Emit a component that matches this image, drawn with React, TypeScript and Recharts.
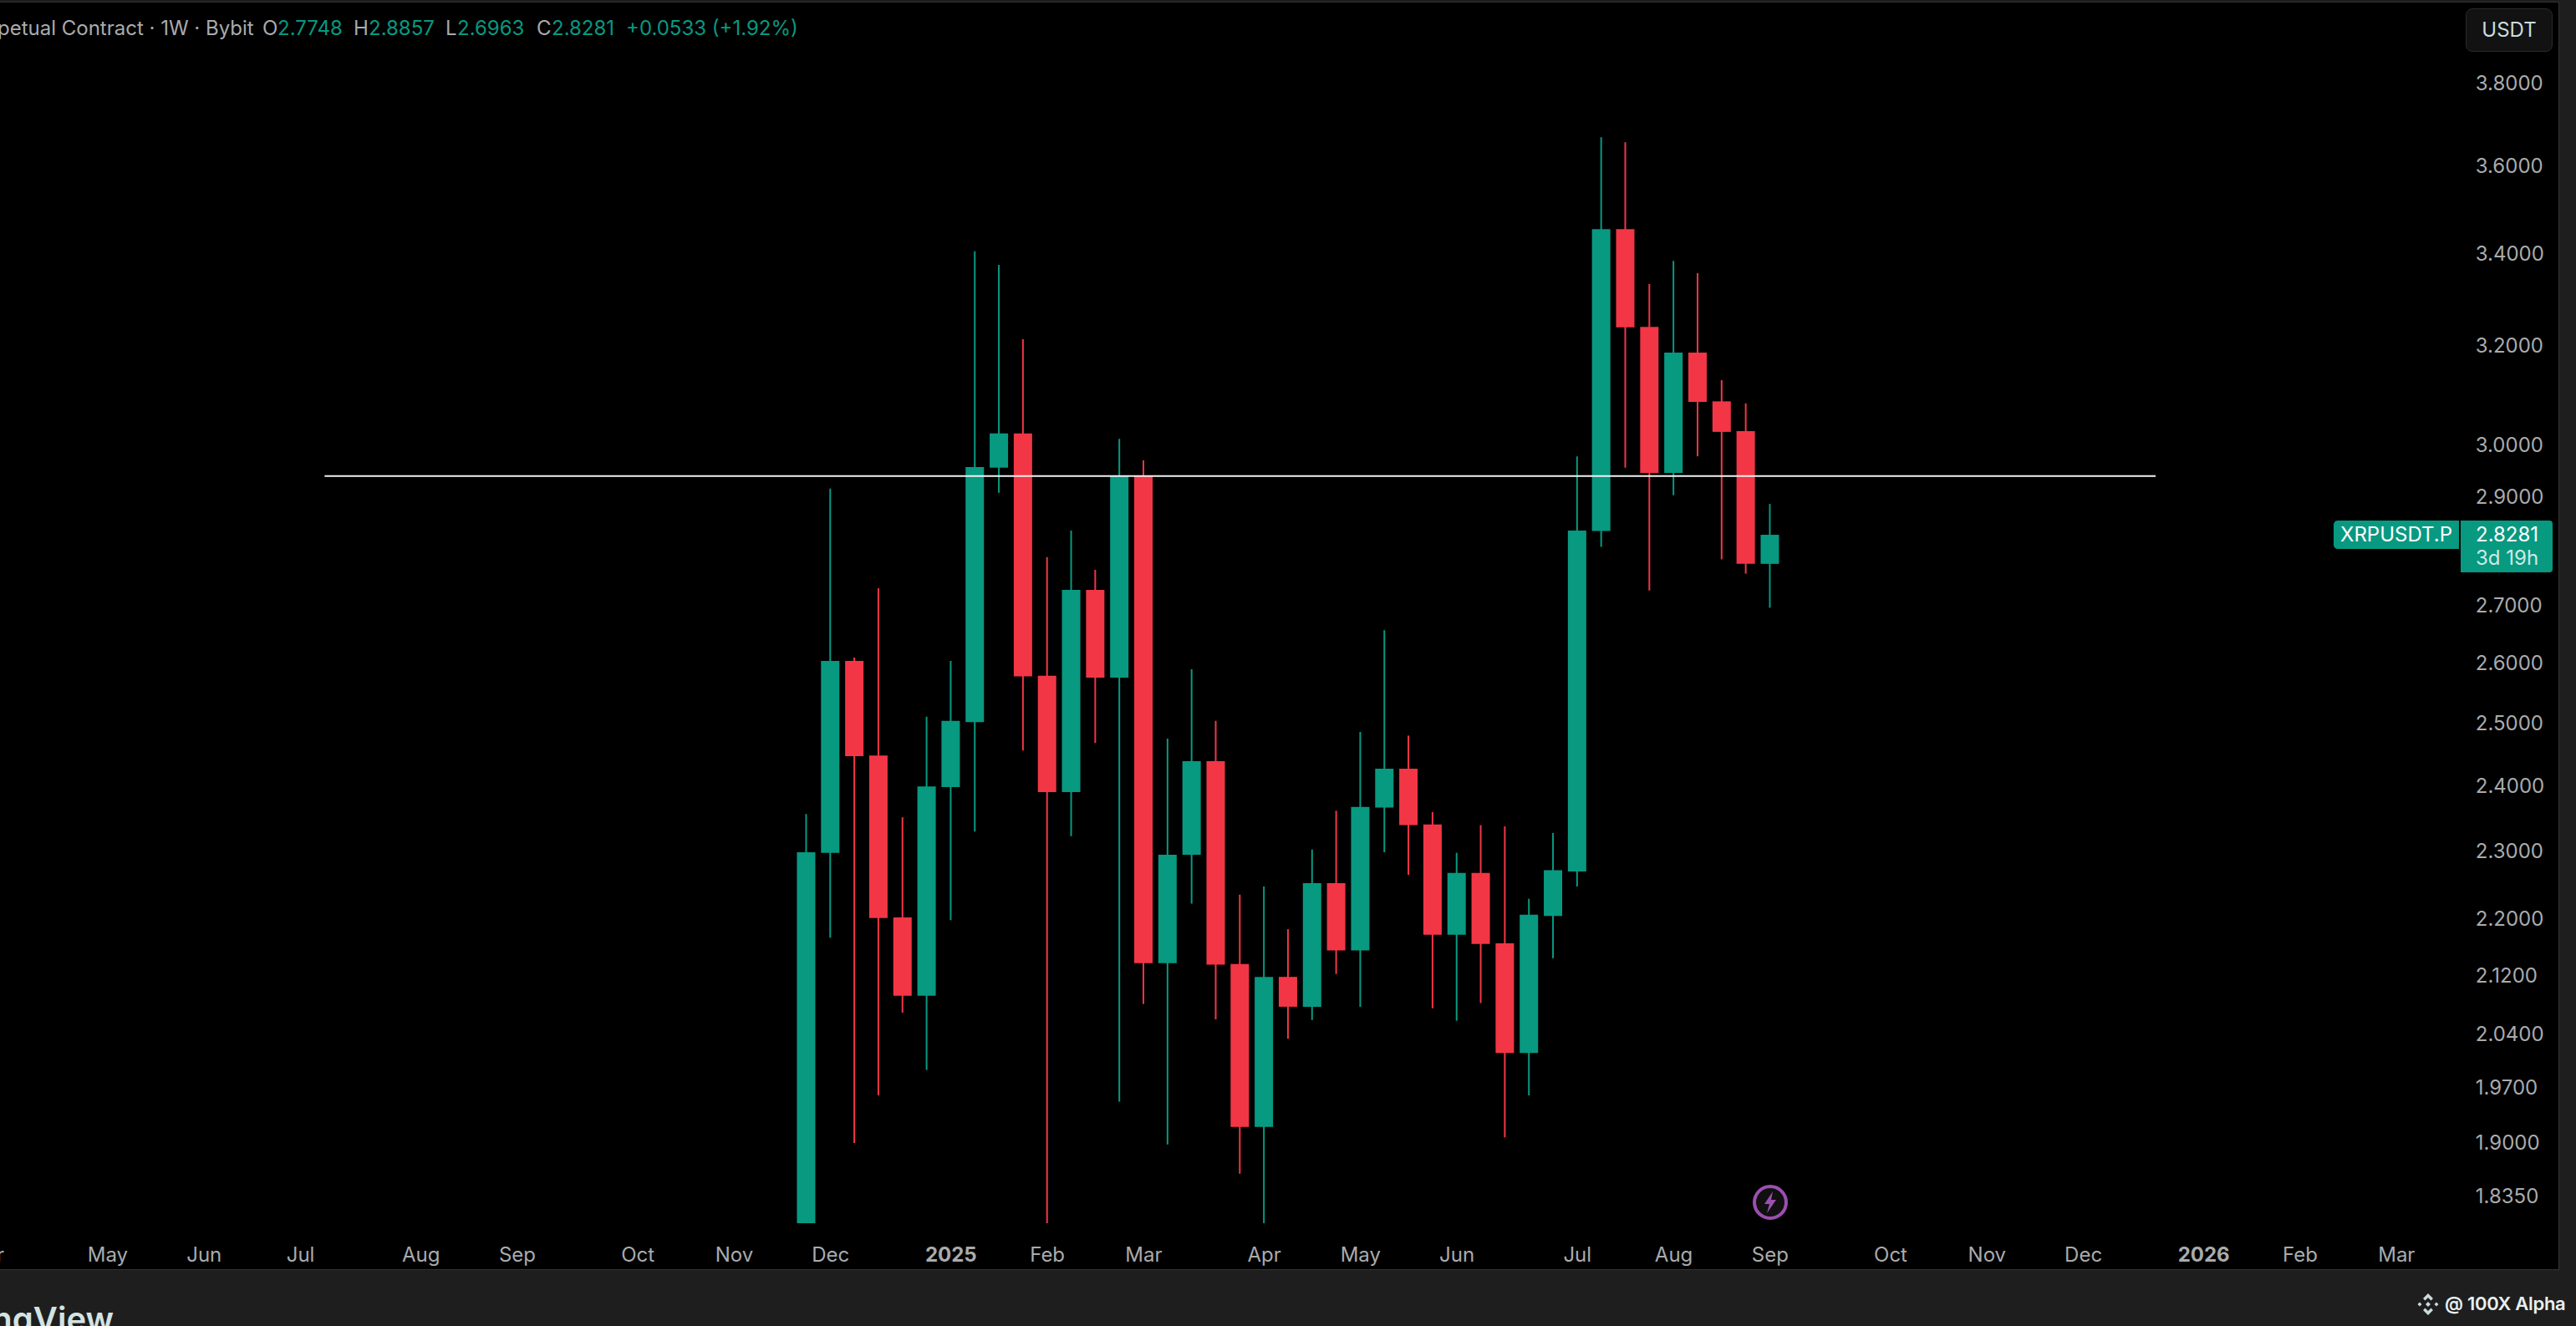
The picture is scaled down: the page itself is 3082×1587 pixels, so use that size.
import { Bar, Cell, ComposedChart, ReferenceLine, XAxis, YAxis } from 'recharts';

const GREEN = '#089981';
const RED = '#F23645';
const TEXT = '#a9abad';
const FONT = 'Inter, sans-serif';

// weekly candles (lows at 1.8028 run off the pane)
const weeks = [0, 1, 2, 3, 4, 5, 6, 7, 8, 9, 10, 11, 12, 13, 14, 15, 16, 17, 18, 19, 20, 21, 22, 23, 24, 25, 26, 27, 28, 29, 30, 31, 32, 33, 34, 35, 36, 37, 38, 39, 40];
const opens = [1.8028, 2.297, 2.604, 2.448, 2.202, 2.092, 2.398, 2.502, 2.955, 3.022, 2.579, 2.39, 2.728, 2.576, 2.939, 2.137, 2.294, 2.439, 2.136, 1.92, 2.118, 2.077, 2.252, 2.155, 2.366, 2.427, 2.34, 2.177, 2.267, 2.165, 2.015, 2.204, 2.269, 2.835, 3.454, 3.24, 2.945, 3.186, 3.086, 3.0265, 2.7748];
const highs = [2.356, 2.915, 2.61, 2.731, 2.351, 2.511, 2.604, 3.404, 3.374, 3.214, 2.787, 2.836, 2.764, 3.011, 2.969, 2.475, 2.59, 2.504, 2.235, 2.247, 2.185, 2.302, 2.361, 2.486, 2.657, 2.48, 2.359, 2.297, 2.339, 2.337, 2.229, 2.327, 2.977, 3.668, 3.656, 3.332, 3.383, 3.356, 3.129, 3.082, 2.8857];
const lows = [1.8028, 2.173, 1.9, 1.96, 2.069, 1.993, 2.198, 2.329, 2.907, 2.456, 1.8028, 2.322, 2.468, 1.952, 2.081, 1.898, 2.222, 2.06, 1.862, 1.8028, 2.034, 2.059, 2.122, 2.077, 2.298, 2.264, 2.075, 2.058, 2.082, 1.907, 1.96, 2.144, 2.247, 2.806, 2.955, 2.727, 2.902, 2.977, 2.783, 2.757, 2.6963];
const closes = [2.298, 2.604, 2.447, 2.201, 2.092, 2.399, 2.504, 2.956, 3.022, 2.578, 2.39, 2.728, 2.576, 2.939, 2.137, 2.294, 2.439, 2.135, 1.92, 2.118, 2.077, 2.252, 2.155, 2.367, 2.427, 2.339, 2.177, 2.267, 2.164, 2.015, 2.206, 2.271, 2.836, 3.454, 3.239, 2.945, 3.186, 3.085, 3.025, 2.7748, 2.8281];

const priceTicks = [3.8, 3.6, 3.4, 3.2, 3.0, 2.9, 2.7, 2.6, 2.5, 2.4, 2.3, 2.2, 2.12, 2.04, 1.97, 1.9, 1.835];

const timeTicks = [-34, -29, -25, -21, -16, -12, -7, -3, 1, 6, 10, 14, 19, 23, 27, 32, 36, 40, 45, 49, 53, 58, 62, 66];
const timeLabels = ['Apr', 'May', 'Jun', 'Jul', 'Aug', 'Sep', 'Oct', 'Nov', 'Dec', '2025', 'Feb', 'Mar', 'Apr', 'May', 'Jun', 'Jul', 'Aug', 'Sep', 'Oct', 'Nov', 'Dec', '2026', 'Feb', 'Mar'];

const levelPrice = 2.939;
const levelFrom = -20;
const levelTo = 56;

const candles = weeks.map((week, i) => ({
  week,
  up: closes[i] >= opens[i],
  wick: [lows[i], highs[i]],
  body: [Math.min(opens[i], closes[i]), Math.max(opens[i], closes[i])],
}));

function TimeTick({ x, y, payload }: any) {
  const label = timeLabels[timeTicks.indexOf(payload.value)];
  const isYear = label.startsWith('20');
  return (
    <text x={x} y={y + 38} textAnchor="middle" fontFamily={FONT} fontSize={24} fontWeight={isYear ? 700 : 400} fill={TEXT}>
      {label}
    </text>
  );
}

function Label({ left, top, color, children, style }: any) {
  return (
    <span style={{ position: 'absolute', left, top, color, fontFamily: FONT, fontSize: 24, lineHeight: '30px', whiteSpace: 'nowrap', ...style }}>
      {children}
    </span>
  );
}

export default function App() {
  return (
    <div style={{ position: 'absolute', left: 0, top: 0, width: 3082, height: 1587, overflow: 'hidden', background: '#1e1e1e' }}>
      <div style={{ position: 'absolute', left: 0, top: 3, width: 3061, height: 1516, background: '#000', boxShadow: '0 0 0 1px #333' }} />

      <div style={{ position: 'absolute', left: -43.875, top: 0 }}>
        <ComposedChart width={3104.8} height={1519} data={candles} margin={{ top: 8, right: 0, bottom: 0, left: 0 }}>
          <XAxis
            xAxisId="time"
            dataKey="week"
            type="number"
            domain={[-35, 69]}
            ticks={timeTicks}
            interval={0}
            height={55}
            axisLine={false}
            tickLine={false}
            tick={<TimeTick />}
          />
          <XAxis xAxisId="wick" dataKey="week" type="number" domain={[-35, 69]} hide />
          <YAxis
            orientation="right"
            scale="log"
            domain={[1.8028, 3.9948]}
            ticks={priceTicks}
            interval={0}
            width={107}
            axisLine={false}
            tickLine={false}
            tickSize={0}
            tickMargin={8}
            tickFormatter={(v: number) => v.toFixed(4)}
            tick={{ fill: TEXT, fontFamily: FONT, fontSize: 24 }}
          />
          <ReferenceLine
            xAxisId="time"
            segment={[{ x: levelFrom, y: levelPrice }, { x: levelTo, y: levelPrice }]}
            stroke="#f2f2f2"
            strokeWidth={2}
          />
          <Bar xAxisId="wick" dataKey="wick" barSize={2} isAnimationActive={false}>
            {candles.map((c) => (
              <Cell key={c.week} fill={c.up ? GREEN : RED} />
            ))}
          </Bar>
          <Bar xAxisId="time" dataKey="body" barSize={22} isAnimationActive={false}>
            {candles.map((c) => (
              <Cell key={c.week} fill={c.up ? GREEN : RED} />
            ))}
          </Bar>
        </ComposedChart>
      </div>

      {/* header line */}
      <Label left={-3} top={19} color={TEXT}>petual Contract · 1W · Bybit</Label>
      <Label left={314} top={19} color={TEXT}>O</Label>
      <Label left={332} top={19} color={GREEN}>2.7748</Label>
      <Label left={423} top={19} color={TEXT}>H</Label>
      <Label left={441} top={19} color={GREEN}>2.8857</Label>
      <Label left={533} top={19} color={TEXT}>L</Label>
      <Label left={547} top={19} color={GREEN}>2.6963</Label>
      <Label left={642} top={19} color={TEXT}>C</Label>
      <Label left={660} top={19} color={GREEN}>2.8281</Label>
      <Label left={749} top={19} color={GREEN}>+0.0533 (+1.92%)</Label>

      {/* price scale extras */}
      <div style={{ position: 'absolute', left: 2950, top: 10, width: 102, height: 50, borderRadius: 8, border: '1px solid #2a2a2a', background: '#121212', color: '#c9dcdc', fontFamily: FONT, fontSize: 24, lineHeight: '50px', textAlign: 'center' }}>
        USDT
      </div>
      <div style={{ position: 'absolute', left: 2792, top: 623, width: 150, height: 34, borderRadius: '5px 0 0 5px', background: GREEN, color: '#fff', fontFamily: FONT, fontSize: 24, lineHeight: '34px', textAlign: 'center' }}>
        XRPUSDT.P
      </div>
      <div style={{ position: 'absolute', left: 2944, top: 623, width: 110, height: 62, borderRadius: '0 4px 4px 0', background: GREEN }} />
      <Label left={2962} top={625} color="#fff">2.8281</Label>
      <Label left={2962} top={653} color="#cfe9e4">3d 19h</Label>

      {/* bolt marker */}
      <svg style={{ position: 'absolute', left: 2096, top: 1417 }} width={44} height={44} viewBox="0 0 44 44">
        <circle cx={22} cy={22} r={19} fill="#101010" stroke="#9c4fb0" strokeWidth={4} />
        <path d="M25 9 L15 24 L21 24 L18 35 L29 19 L23 19 Z" fill="#9c4fb0" />
      </svg>

      {/* footer */}
      <span style={{ position: 'absolute', right: 2946, top: 1554, color: '#d3e3e3', fontFamily: FONT, fontSize: 40, fontWeight: 600, lineHeight: '50px', whiteSpace: 'nowrap' }}>
        ngView
      </span>
      <svg style={{ position: 'absolute', left: 2891, top: 1547 }} width={28} height={28} viewBox="0 0 28 28" fill="#c9dcdc">
        <path d="M14 1 L20 7 L17.5 9.5 L14 6 L10.5 9.5 L8 7 Z" />
        <path d="M14 27 L20 21 L17.5 18.5 L14 22 L10.5 18.5 L8 21 Z" />
        <path d="M14 11 L17 14 L14 17 L11 14 Z" />
        <path d="M4 11.5 L6.5 14 L4 16.5 L1.5 14 Z" />
        <path d="M24 11.5 L26.5 14 L24 16.5 L21.5 14 Z" />
      </svg>
      <Label left={2925} top={1545} color="#e8f0f0" style={{ fontWeight: 600, fontSize: 22, letterSpacing: -0.3 }}>@ 100X Alpha</Label>
    </div>
  );
}
